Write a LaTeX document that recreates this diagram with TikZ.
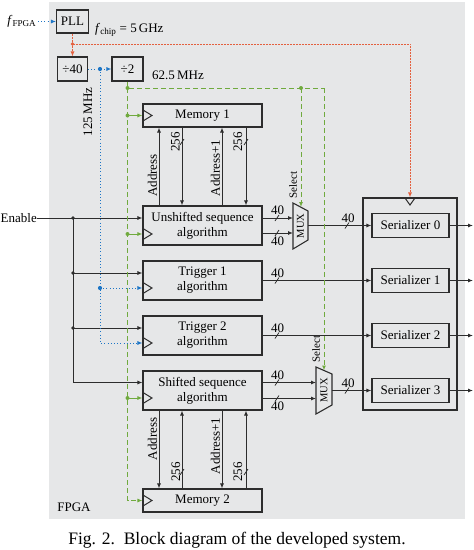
\documentclass[tikz,border=0pt]{standalone}
\usepackage{fontspec}
\setmainfont{Liberation Serif}
\usetikzlibrary{arrows.meta,calc}
\definecolor{bg}{RGB}{230,231,232}
\definecolor{ln}{RGB}{45,45,45}
\definecolor{clkO}{RGB}{228,96,62}
\definecolor{clkB}{RGB}{30,118,198}
\definecolor{clkG}{RGB}{112,170,62}
\begin{document}
\begin{tikzpicture}[x=1pt,y=-1pt,
  font=\fontsize{13}{15}\selectfont,
  box/.style={draw=ln, line width=1.1pt, fill=bg, inner sep=0pt, align=center},
  wire/.style={draw=ln, line width=0.9pt},
  arr/.style={wire, -{Latex[length=5pt,width=4pt]}},
  orng/.style={draw=clkO, line width=1pt, dash pattern=on 0.6pt off 0.9pt},
  blu/.style={draw=clkB, line width=0.9pt, dash pattern=on 1pt off 2.2pt},
  grn/.style={draw=clkG, line width=1pt, dash pattern=on 5pt off 3pt},
  ctip/.style={-{Latex[length=5pt,width=4pt]}},
  lbl/.style={inner sep=0pt},
  rlbl/.style={inner sep=0pt, rotate=90},
  clk/.pic={\draw[ln, line width=1pt] (0,-5.5) -- (9,0) -- (0,5.5);},
  tck/.pic={\draw[ln, line width=0.8pt] (-2,3) -- (2,-3);}
]
\useasboundingbox (0,0) rectangle (474,550);
\fill[bg] (49,2) rectangle (465,519);

% clock generation
\node[anchor=east, inner sep=1.5pt] (ffpga) at (38,21.5) {\textit{f}\textsubscript{FPGA}};
\node[box, minimum width=32pt, minimum height=23pt] (pll) at (72.5,21.5) {PLL};
\node[anchor=base west, inner sep=0pt] (fchip) at (95,32) {\textit{f}\textsubscript{chip} = 5\,GHz};
\node[box, minimum width=30pt, minimum height=24pt] (d40) at (72.5,69) {÷40};
\node[box, minimum width=31pt, minimum height=24pt] (d2) at (127.5,69) {÷2};
\node[lbl] (f62) at (178,75) {62.5\,MHz};
\node[rlbl] (f125) at (88,112) {125\,MHz};

% blocks
\node[box, minimum width=119pt, minimum height=23pt] (mem1) at (202.5,115.5) {Memory 1};
\node[box, minimum width=119pt, minimum height=39pt] (unsh) at (202.5,225.5) {Unshifted sequence\\algorithm};
\node[box, minimum width=119pt, minimum height=39pt] (trig1) at (202.5,280.5) {Trigger 1\\algorithm};
\node[box, minimum width=119pt, minimum height=39pt] (trig2) at (202.5,335.5) {Trigger 2\\algorithm};
\node[box, minimum width=119pt, minimum height=39pt] (shift) at (202.5,390.5) {Shifted sequence\\algorithm};
\node[box, minimum width=119pt, minimum height=23pt] (mem2) at (202.5,500.5) {Memory 2};
\node[lbl] (fpga) at (74,507) {FPGA};

% serializers
\node[draw=ln, line width=1.1pt, inner sep=0pt, minimum width=94pt, minimum height=212pt] (sgrp) at (410,304) {};
\node[box, minimum width=77pt, minimum height=24pt] (s0) at (410.5,225.5) {Serializer 0};
\node[box, minimum width=77pt, minimum height=24pt] (s1) at (410.5,280.5) {Serializer 1};
\node[box, minimum width=77pt, minimum height=24pt] (s2) at (410.5,335.5) {Serializer 2};
\node[box, minimum width=77pt, minimum height=24pt] (s3) at (410.5,390.5) {Serializer 3};
\draw[ln, line width=1pt] (405,198) -- (410,205) -- (415,198);

% MUXes
\coordinate (m1a) at (293,203); \coordinate (m1b) at (308,211);
\coordinate (m1c) at (308,240); \coordinate (m1d) at (293,249);
\draw[ln, line width=1.1pt, fill=bg] (m1a) -- (m1b) -- (m1c) -- (m1d) -- cycle;
\node[rlbl, font=\fontsize{10.5}{12}\selectfont] (mux1) at (300.5,226) {MUX};
\node[rlbl, font=\fontsize{11}{12}\selectfont] (sel1) at (293,185) {Select};
\coordinate (m2a) at (316,367); \coordinate (m2b) at (332,374);
\coordinate (m2c) at (332,405); \coordinate (m2d) at (316,414);
\draw[ln, line width=1.1pt, fill=bg] (m2a) -- (m2b) -- (m2c) -- (m2d) -- cycle;
\node[rlbl, font=\fontsize{10.5}{12}\selectfont] (mux2) at (324,390.5) {MUX};
\node[rlbl, font=\fontsize{11}{12}\selectfont] (sel2) at (316,349) {Select};
\coordinate (m1in1) at (293,218); \coordinate (m1in2) at (293,233);
\coordinate (m1out) at (308,225.5);
\coordinate (m2in1) at (316,382.5); \coordinate (m2in2) at (316,398.5);
\coordinate (m2out) at (332,390.5);
\coordinate (m1s) at (301,207); \coordinate (m2s) at (324,370.5);

% clock symbols
\foreach \y in {115.5,234,288,343,398,500.5} \pic at (143,\y) {clk};

% enable
\node[anchor=east, inner sep=0pt] (en) at (37,218) {Enable};
\coordinate (e0) at (73,218); \coordinate (e1) at (73,273);
\coordinate (e2) at (73,328); \coordinate (e3) at (73,382.5);
\draw[arr] (en.east) -- (unsh.west |- e0);
\draw[wire] (e0) -- (e3);
\draw[arr] (e1) -- (trig1.west |- e1);
\draw[arr] (e2) -- (trig2.west |- e2);
\draw[arr] (e3) -- (shift.west |- e3);
\foreach \c in {e0,e1,e2} \fill[ln] (\c) circle (1.9);

% memory connections
\draw[arr] ([xshift=-43.5pt]unsh.north) -- ([xshift=-43.5pt]mem1.south);
\draw[arr] ([xshift=-20.5pt]mem1.south) -- ([xshift=-20.5pt]unsh.north);
\draw[arr] ([xshift=19.5pt]unsh.north) -- ([xshift=19.5pt]mem1.south);
\draw[arr] ([xshift=43.5pt]mem1.south) -- ([xshift=43.5pt]unsh.north);
\draw[arr] ([xshift=-43.5pt]shift.south) -- ([xshift=-43.5pt]mem2.north);
\draw[arr] ([xshift=-20.5pt]mem2.north) -- ([xshift=-20.5pt]shift.south);
\draw[arr] ([xshift=19.5pt]shift.south) -- ([xshift=19.5pt]mem2.north);
\draw[arr] ([xshift=43.5pt]mem2.north) -- ([xshift=43.5pt]shift.south);
\pic at (182,142) {tck}; \pic at (246,142) {tck};
\pic at (182,472) {tck}; \pic at (246,472) {tck};
\node[rlbl] (a1) at (152.5,175.5) {Address};
\node[rlbl] (n1) at (175.5,142) {256};
\node[rlbl] (ap1) at (215.5,168) {Address+1};
\node[rlbl] (n2) at (238,142) {256};
\node[rlbl] (a2) at (152.5,439) {Address};
\node[rlbl] (n3) at (176,472) {256};
\node[rlbl] (ap2) at (215.5,446) {Address+1};
\node[rlbl] (n4) at (238,472) {256};

% data buses
\draw[arr] (unsh.east |- m1in1) -- (m1in1);
\draw[arr] (unsh.east |- m1in2) -- (m1in2);
\draw[arr] (m1out) -- (s0.west);
\draw[arr] (trig1.east) -- (s1.west);
\draw[arr] (trig2.east) -- (s2.west);
\draw[arr] (shift.east |- m2in1) -- (m2in1);
\draw[arr] (shift.east |- m2in2) -- (m2in2);
\draw[arr] (m2out) -- (s3.west);
\foreach \y in {218,233,280.5,335.5,382.5,398.5} \pic at (277,\y) {tck};
\pic at (347,225.5) {tck}; \pic at (347,390.5) {tck};
\node[lbl] (b1) at (277.5,210) {40};
\node[lbl] (b2) at (277.5,241) {40};
\node[lbl] (b3) at (277.5,273) {40};
\node[lbl] (b4) at (277.5,328) {40};
\node[lbl] (b5) at (277.5,375) {40};
\node[lbl] (b6) at (277.5,406.5) {40};
\node[lbl] (b7) at (348,218) {40};
\node[lbl] (b8) at (348,383) {40};

% serializer outputs
\coordinate (o0) at (473,225.5); \coordinate (o1) at (473,280.5);
\coordinate (o2) at (473,335.5); \coordinate (o3) at (473,390.5);
\draw[arr] (s0.east) -- (o0);
\draw[arr] (s1.east) -- (o1);
\draw[arr] (s2.east) -- (o2);
\draw[arr] (s3.east) -- (o3);

% orange clock
\coordinate (oa) at (72.5,44); \coordinate (ob) at (410,44);
\draw[orng, -{Latex[length=5pt,width=4pt]}, clkO] (pll.south) -- (d40.north);
\draw[orng, -{Latex[length=5pt,width=4pt]}, clkO] (oa) -- (ob) -- (sgrp.north);
\fill[clkO] (oa) circle (1.9);

% blue clock
\draw[blu, -{Latex[length=5pt,width=4pt]}, clkB] (ffpga.east) -- (pll.west |- ffpga.east);
\draw[blu, -{Latex[length=5pt,width=4pt]}, clkB] (d40.east) -- (d2.west);
\coordinate (ba) at (100,69); \coordinate (bb) at (100,288); \coordinate (bc) at (100,343);
\draw[blu, -{Latex[length=5pt,width=4pt]}, clkB] (ba) -- (bc) -- (trig2.west |- bc);
\draw[blu, -{Latex[length=5pt,width=4pt]}, clkB] (bb) -- (trig1.west |- bb);
\fill[clkB] (ba) circle (2.1); \fill[clkB] (bb) circle (2.1);

% green clock
\coordinate (ga) at (127.5,88); \coordinate (gb) at (301,88); \coordinate (gc) at (324,88);
\coordinate (gz) at (127.5,500.5);
\coordinate (g1) at (127.5,115.5); \coordinate (g2) at (127.5,234); \coordinate (g3) at (127.5,398);
\draw[grn] (d2.south) -- (ga) -- (gc);
\draw[grn, -{Latex[length=5pt,width=4pt]}, clkG] (gb) -- (m1s);
\draw[grn, -{Latex[length=5pt,width=4pt]}, clkG] (gc) -- (m2s);
\draw[grn, -{Latex[length=5pt,width=4pt]}, clkG] (ga) -- (gz) -- (mem2.west |- gz);
\draw[draw=clkG, line width=1pt, -{Latex[length=5pt,width=4pt]}, clkG] (g1) -- (mem1.west |- g1);
\draw[draw=clkG, line width=1pt, -{Latex[length=5pt,width=4pt]}, clkG] (g2) -- (unsh.west |- g2);
\draw[draw=clkG, line width=1pt, -{Latex[length=5pt,width=4pt]}, clkG] (g3) -- (shift.west |- g3);
\foreach \c in {ga,gb,g1,g2,g3} \fill[clkG] (\c) circle (2);

% caption
\node[font=\fontsize{17.5}{20}\selectfont] (cap) at (237,540) {Fig. 2.\ \ Block diagram of the developed system.};
\end{tikzpicture}
\end{document}
